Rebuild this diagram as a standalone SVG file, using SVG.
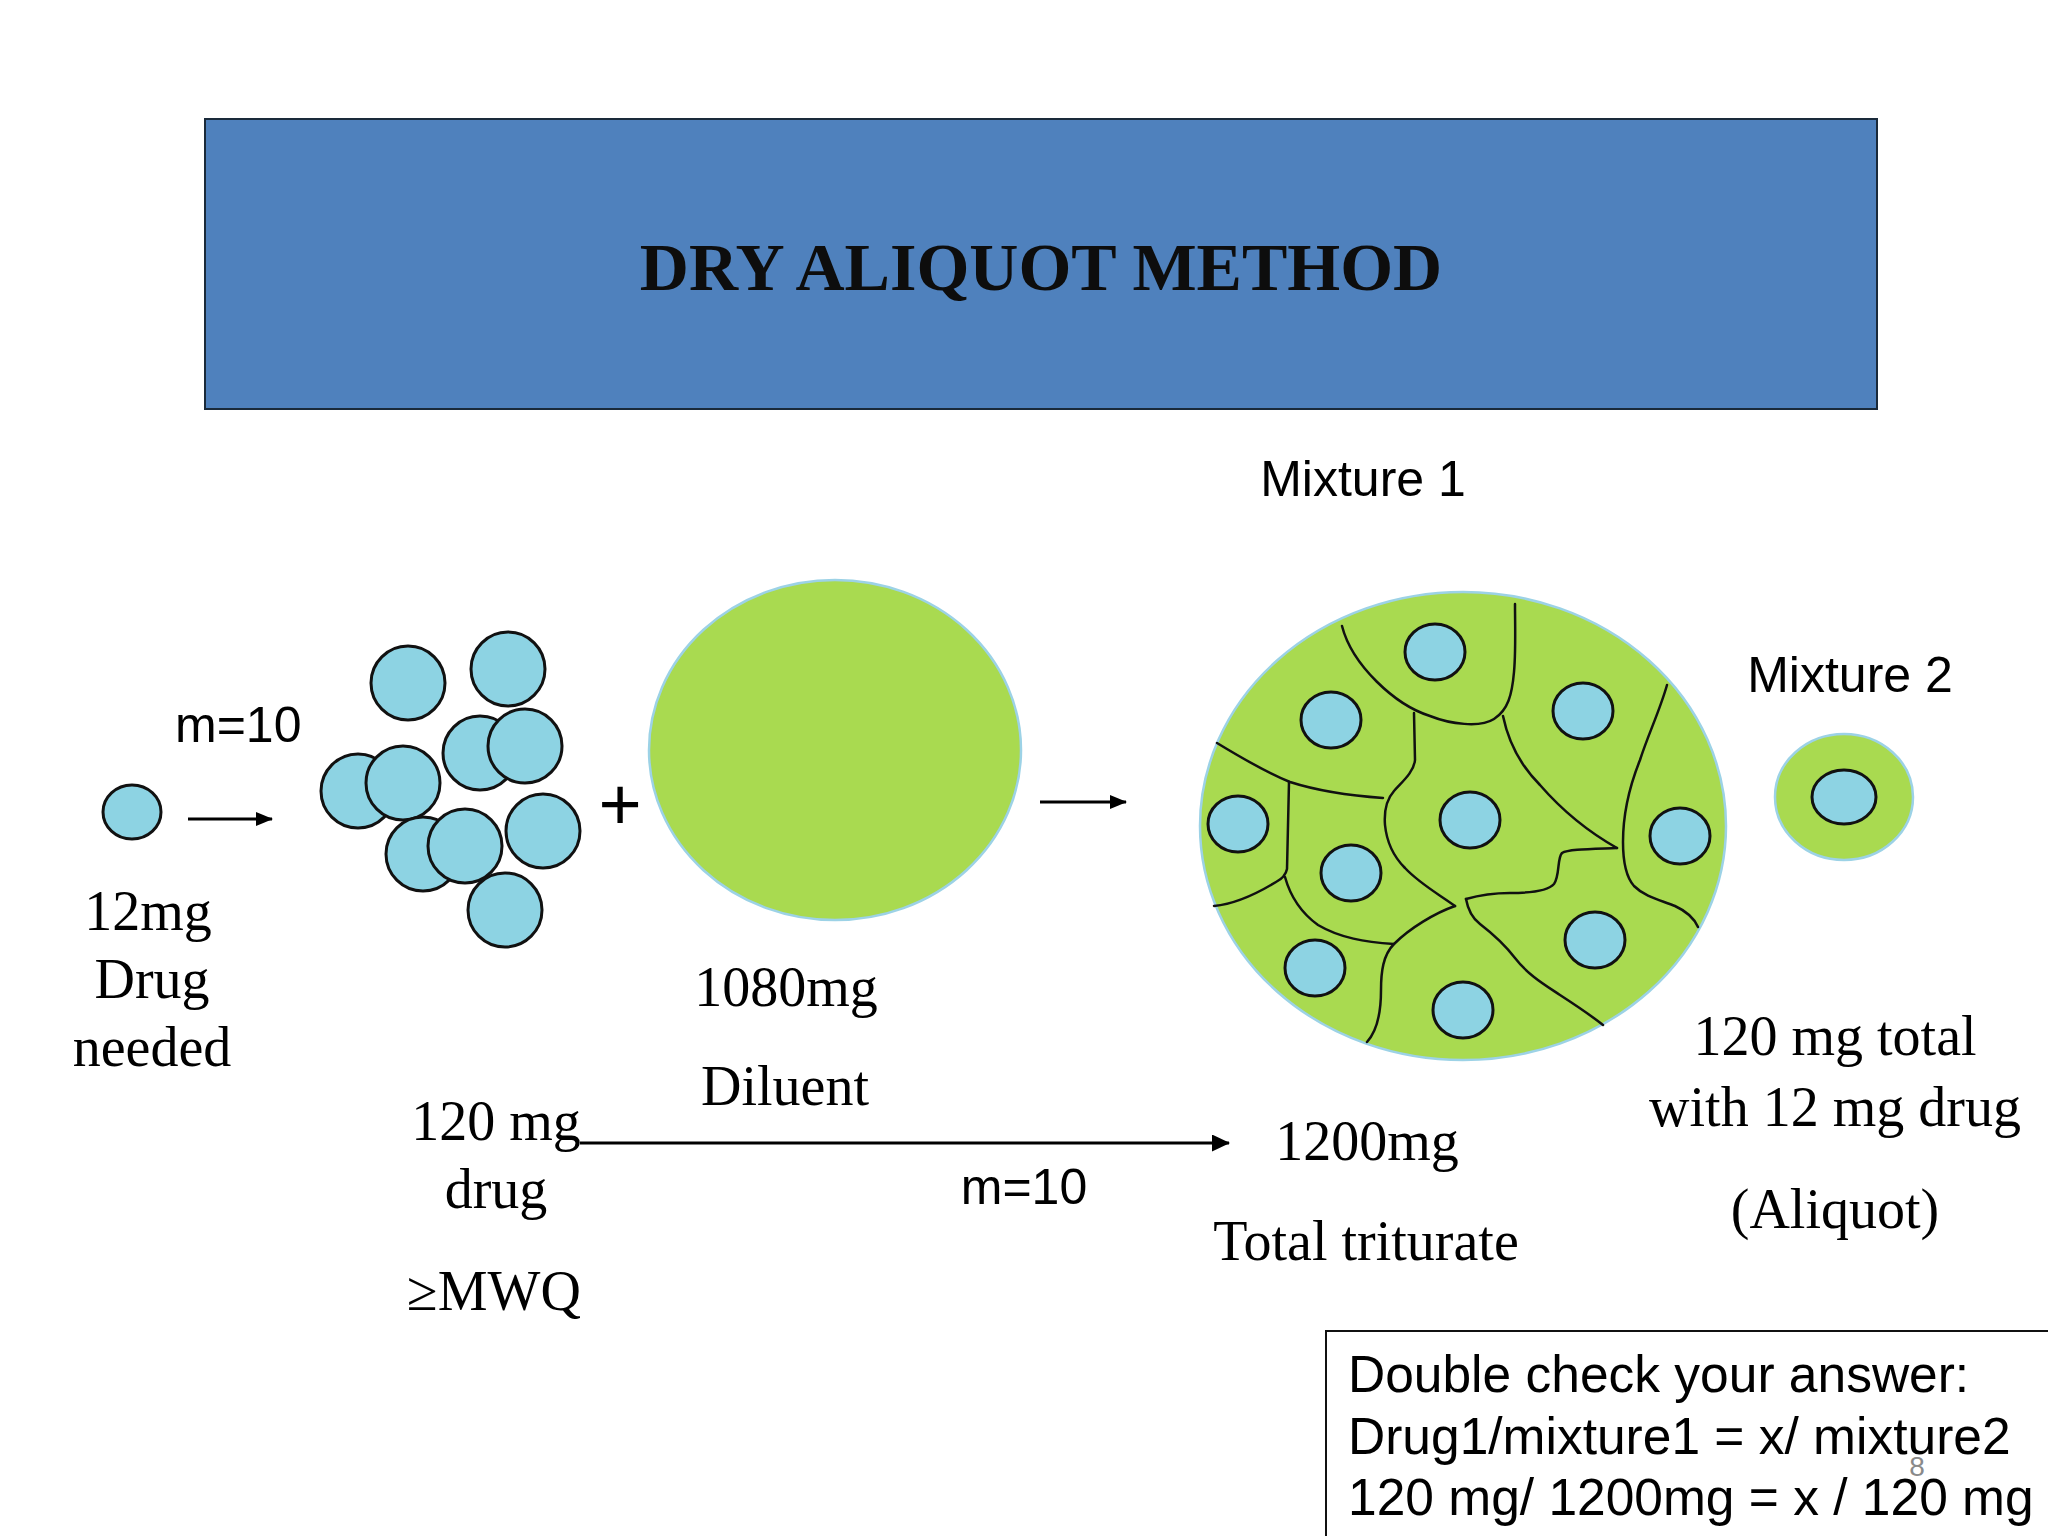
<svg xmlns="http://www.w3.org/2000/svg" width="2048" height="1536" viewBox="0 0 2048 1536">
<defs>
<style>
.blue{fill:#8DD3E3;stroke:#111;stroke-width:3}
.green{fill:#A9DA50;stroke:#9CD2E6;stroke-width:2.5}
.cell{fill:none;stroke:#111;stroke-width:2.5;stroke-linecap:round;stroke-linejoin:round}
.serif{font-family:"Liberation Serif","Times New Roman",serif;font-size:56px;fill:#000}
.sans{font-family:"Liberation Sans",Arial,sans-serif;font-size:50px;fill:#000}
.boxtext{font-family:"Liberation Sans",Arial,sans-serif;font-size:51.5px;fill:#000}
.conn{stroke:#000;stroke-width:3;fill:none}
</style>
<marker id="ah" viewBox="0 0 17 14" refX="16" refY="7" markerWidth="17" markerHeight="14" markerUnits="userSpaceOnUse" orient="auto">
<path d="M0,0 L17,7 L0,14 Z" fill="#000"/>
</marker>
<marker id="ahL" viewBox="0 0 18 17" refX="17" refY="8.5" markerWidth="18" markerHeight="17" markerUnits="userSpaceOnUse" orient="auto">
<path d="M0,0 L18,8.5 L0,17 Z" fill="#000"/>
</marker>
</defs>
<rect width="2048" height="1536" fill="#fff"/>

<g id="title">
<rect x="205" y="119" width="1672" height="290" fill="#4F81BD" stroke="#1a2a3a" stroke-width="2"/>
<text x="1041" y="290" text-anchor="middle" font-family="'Liberation Serif','Times New Roman',serif" font-weight="bold" font-size="68" fill="#0d0d0d">DRY ALIQUOT METHOD</text>
</g>

<g id="drug-needed">
<ellipse class="blue" cx="132" cy="812" rx="29" ry="27"/>
<text class="serif" text-anchor="middle"><tspan x="148" y="930">12mg</tspan><tspan x="152" y="998">Drug</tspan><tspan x="152" y="1066">needed</tspan></text>
</g>

<g id="label-m10-a"><text class="sans" x="175" y="742">m=10</text></g>

<g id="drug-120">
<circle class="blue" cx="408" cy="683" r="37"/>
<circle class="blue" cx="508" cy="669" r="37"/>
<circle class="blue" cx="480" cy="753" r="37"/>
<circle class="blue" cx="525" cy="746" r="37"/>
<circle class="blue" cx="358" cy="791" r="37"/>
<circle class="blue" cx="403" cy="783" r="37"/>
<circle class="blue" cx="423" cy="854" r="37"/>
<circle class="blue" cx="465" cy="846" r="37"/>
<circle class="blue" cx="543" cy="831" r="37"/>
<circle class="blue" cx="505" cy="910" r="37"/>
<text class="serif" text-anchor="middle"><tspan x="496" y="1140">120 mg</tspan><tspan x="496" y="1208">drug</tspan><tspan x="494" y="1310">≥MWQ</tspan></text>
</g>

<g id="plus"><text x="620" y="830" text-anchor="middle" font-family="'Liberation Sans',Arial,sans-serif" font-size="74" fill="#000">+</text></g>

<g id="diluent">
<ellipse class="green" cx="835" cy="750" rx="186" ry="170"/>
<text class="serif" text-anchor="middle"><tspan x="786" y="1006">1080mg</tspan><tspan x="785" y="1105">Diluent</tspan></text>
</g>

<g id="mixture1">
<text class="sans" x="1363" y="496" text-anchor="middle">Mixture 1</text>
<ellipse class="green" cx="1463" cy="826" rx="263" ry="234"/>
<path class="cell" d="M1342,626 C1352,665 1395,705 1430,716 C1450,724 1480,728 1494,719 C1508,710 1512,695 1514,672 C1516,650 1515,625 1515,604"/>
<path class="cell" d="M1414,713 L1415,760 C1414,772 1402,782 1394,791 C1386,800 1384,812 1385,825 C1387,845 1395,858 1405,868 C1420,884 1440,895 1455,906"/>
<path class="cell" d="M1217,743 C1240,757 1265,772 1290,782 C1315,790 1340,795 1383,798"/>
<path class="cell" d="M1289,782 L1287,869 C1286,874 1282,879 1276,882 C1258,893 1235,904 1214,906"/>
<path class="cell" d="M1285,877 C1290,895 1300,912 1318,925 C1340,938 1365,942 1394,944"/>
<path class="cell" d="M1455,906 C1435,913 1410,928 1394,944 C1383,955 1381,972 1381,990 C1381,1010 1378,1030 1367,1042"/>
<path class="cell" d="M1466,899 C1480,895 1495,893 1510,893 C1530,893 1548,891 1554,884 C1560,876 1557,858 1562,853 C1568,849 1590,849 1617,848"/>
<path class="cell" d="M1503,716 C1508,740 1520,765 1540,785 C1560,808 1585,830 1617,848"/>
<path class="cell" d="M1667,685 C1660,710 1648,735 1640,760 C1630,785 1623,810 1623,842 C1623,862 1626,877 1634,886 C1645,897 1660,900 1675,906 C1688,912 1695,920 1698,927"/>
<path class="cell" d="M1466,899 C1468,910 1472,918 1480,924 C1493,934 1505,945 1515,958 C1528,975 1545,985 1560,995 C1580,1008 1593,1017 1603,1025"/>
<ellipse class="blue" cx="1435" cy="652" rx="30" ry="28"/>
<ellipse class="blue" cx="1331" cy="720" rx="30" ry="28"/>
<ellipse class="blue" cx="1583" cy="711" rx="30" ry="28"/>
<ellipse class="blue" cx="1238" cy="824" rx="30" ry="28"/>
<ellipse class="blue" cx="1470" cy="820" rx="30" ry="28"/>
<ellipse class="blue" cx="1351" cy="873" rx="30" ry="28"/>
<ellipse class="blue" cx="1680" cy="836" rx="30" ry="28"/>
<ellipse class="blue" cx="1595" cy="940" rx="30" ry="28"/>
<ellipse class="blue" cx="1315" cy="968" rx="30" ry="28"/>
<ellipse class="blue" cx="1463" cy="1010" rx="30" ry="28"/>
<text class="serif" text-anchor="middle"><tspan x="1367" y="1160">1200mg</tspan><tspan x="1366" y="1260">Total triturate</tspan></text>
</g>

<g id="mixture2">
<text class="sans" x="1850" y="692" text-anchor="middle">Mixture 2</text>
<ellipse class="green" cx="1844" cy="797" rx="69" ry="63"/>
<ellipse class="blue" cx="1844" cy="797" rx="32" ry="27"/>
<text class="serif" text-anchor="middle"><tspan x="1835" y="1055">120 mg total</tspan><tspan x="1835" y="1126">with 12 mg drug</tspan><tspan x="1835" y="1228">(Aliquot)</tspan></text>
</g>

<g id="label-m10-b"><text class="sans" x="1024" y="1204" text-anchor="middle">m=10</text></g>

<g id="connectors">
<line class="conn" x1="188" y1="819" x2="272" y2="819" stroke-width="2.5" marker-end="url(#ah)"/>
<line class="conn" x1="1040" y1="802" x2="1126" y2="802" stroke-width="2.5" marker-end="url(#ah)"/>
<line class="conn" x1="580" y1="1143" x2="1229" y2="1143" marker-end="url(#ahL)"/>
</g>

<g id="check-box">
<rect x="1326" y="1331" width="760" height="240" fill="none" stroke="#111" stroke-width="2"/>
<text class="boxtext"><tspan x="1348" y="1392">Double check your answer:</tspan><tspan x="1348" y="1454">Drug1/mixture1 = x/ mixture2</tspan><tspan x="1348" y="1515">120 mg/ 1200mg = x / 120 mg</tspan></text>
</g>

<g id="slide-number"><text x="1917" y="1476" text-anchor="middle" font-family="'Liberation Sans',Arial,sans-serif" font-size="28" fill="#8a8a8a">8</text></g>
</svg>
